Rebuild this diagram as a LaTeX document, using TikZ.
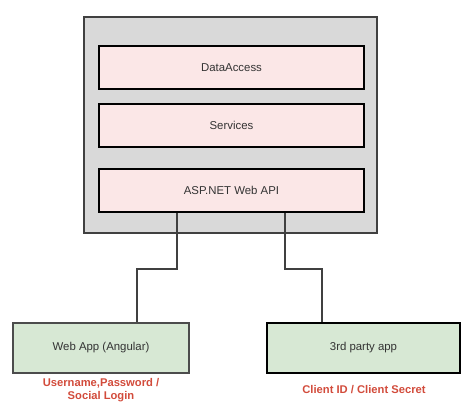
\documentclass[tikz,border=0pt]{standalone}
\usepackage{fontspec}
\setmainfont{Liberation Sans}
\definecolor{shell}{HTML}{D9D9D9}
\definecolor{layerfill}{HTML}{FBE7E7}
\definecolor{appfill}{HTML}{D7E8D4}
\definecolor{notered}{HTML}{D24B3B}
\begin{document}
\begin{tikzpicture}[x=1pt, y=-1pt,
		shellbox/.style = {draw=black!75, line width=1.2pt, fill=shell, minimum width=293pt, minimum height=216pt},
		layer/.style = {draw=black, line width=1.6pt, fill=layerfill, minimum width=265pt, minimum height=43pt, font=\fontsize{11.4}{13}\selectfont, text=black!80},
		app/.style = {draw=black!70, line width=1.2pt, fill=appfill, minimum height=50pt, font=\fontsize{11.4}{13}\selectfont, text=black!80},
		wire/.style = {draw=black!75, line width=1.4pt},
		note/.style = {text=notered, font=\bfseries\fontsize{11.2}{12.5}\selectfont, align=center}]
		\useasboundingbox (0,0) rectangle (474,413);
		
		\node[shellbox] (server) at (230.5,125) {};
		\node[layer] (data) at (231.5,67.5) {DataAccess};
		\node[layer] (services) at (231.5,125.5) {Services};
		\node[layer] (api) at (231.5,190.5) {ASP.NET Web API};
		
		\node[app, minimum width=176pt] (webapp) at (101,348) {Web App (Angular)};
		\node[app, draw=black, line width=2pt, minimum width=193pt] (thirdparty) at (363.5,348) {3rd party app};
		
		\draw[wire] ([xshift=-54.5pt]api.south) -- ++(0,56) -| ([xshift=36pt]webapp.north);
		\draw[wire] ([xshift=53.5pt]api.south) -- ++(0,56) -| ([xshift=-41.5pt]thirdparty.north);
		
		\node[note] (login) at (101,390) {Username,Password /\\Social Login};
		\node[note] (secret) at (364,390) {Client ID / Client Secret};
	\end{tikzpicture}
\end{document}
